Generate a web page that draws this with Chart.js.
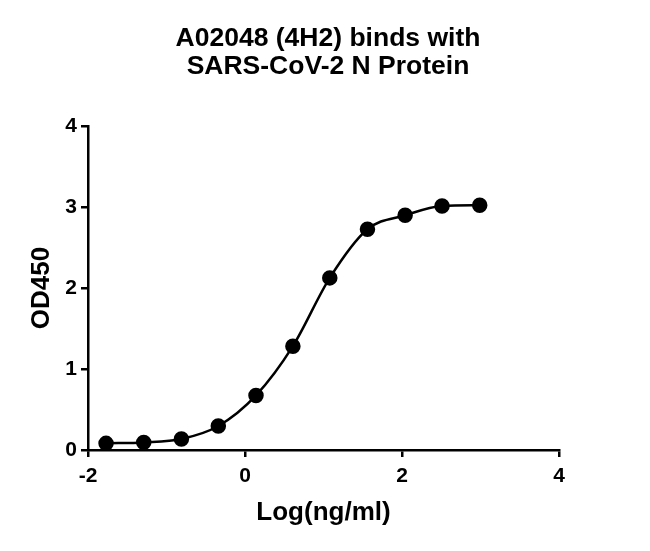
<!DOCTYPE html>
<html>
<head>
<meta charset="utf-8">
<script src="https://cdn.jsdelivr.net/npm/chart.js@4/dist/chart.umd.min.js"></script>
<style>
  html, body { margin: 0; padding: 0; background: #fff; }
  #wrap { width: 650px; height: 551px; }
</style>
</head>
<body>
<div id="wrap"><canvas id="chart"></canvas></div>
<script>
// log10 concentration (ng/ml) and OD450 readings
const logConc = [-1.77, -1.29, -0.81, -0.34, 0.14, 0.61, 1.08, 1.56, 2.04, 2.51, 2.99];
const od450 = [0.082, 0.094, 0.136, 0.296, 0.674, 1.282, 2.125, 2.725, 2.898, 3.013, 3.021];
const xTicks = [-2, 0, 2, 4];
const yTicks = [0, 1, 2, 3, 4];
const titleLines = ['A02048 (4H2) binds with', 'SARS-CoV-2 N Protein'];

const FONT = 'Arial, "Liberation Sans", sans-serif';

const points = logConc.map((x, i) => ({ x: x, y: od450[i] }));

// title is centred on the page, not on the plot area
const pageTitle = {
  id: 'pageTitle',
  afterDraw(chart) {
    const ctx = chart.ctx;
    ctx.save();
    ctx.fillStyle = '#000';
    ctx.font = 'bold 26.5px ' + FONT;
    ctx.textAlign = 'center';
    ctx.textBaseline = 'middle';
    ctx.fillText(titleLines[0], 328, 39);
    ctx.fillText(titleLines[1], 328, 67);
    ctx.restore();
  }
};

const axisGrid = {
  display: true,
  drawOnChartArea: false,
  drawTicks: true,
  tickLength: 7,
  color: '#000',
  lineWidth: 2.5
};

new Chart(document.getElementById('chart'), {
  type: 'scatter',
  data: {
    datasets: [{
      data: points,
      showLine: true,
      cubicInterpolationMode: 'monotone',
      borderColor: '#000',
      borderWidth: 2.5,
      backgroundColor: '#000',
      pointRadius: 6.5,
      pointHoverRadius: 6.5
    }]
  },
  options: {
    responsive: true,
    maintainAspectRatio: false,
    animation: false,
    layout: { padding: { top: 126, right: 91, bottom: 0, left: 0 } },
    plugins: {
      legend: { display: false },
      tooltip: { enabled: false },
      title: { display: false }
    },
    scales: {
      x: {
        type: 'linear',
        min: -2,
        max: 4,
        afterBuildTicks: (scale) => { scale.ticks = xTicks.map(v => ({ value: v })); },
        afterFit: (scale) => { scale.height = 101; },
        grid: axisGrid,
        border: { display: true, color: '#000', width: 2.5 },
        ticks: { color: '#000', padding: 7, font: { family: FONT, size: 21, weight: 'bold' } },
        title: {
          display: true,
          text: 'Log(ng/ml)',
          color: '#000',
          font: { family: FONT, size: 26, weight: 'bold' },
          padding: { top: 0, bottom: 23 }
        }
      },
      y: {
        type: 'linear',
        min: 0,
        max: 4,
        afterBuildTicks: (scale) => { scale.ticks = yTicks.map(v => ({ value: v })); },
        afterFit: (scale) => { scale.width = 88; },
        grid: axisGrid,
        border: { display: true, color: '#000', width: 2.5 },
        ticks: { color: '#000', padding: 4, font: { family: FONT, size: 21, weight: 'bold' } },
        title: {
          display: true,
          text: 'OD450',
          color: '#000',
          font: { family: FONT, size: 26, weight: 'bold' },
          padding: { top: 26, bottom: 0 }
        }
      }
    }
  },
  plugins: [pageTitle]
});
</script>
</body>
</html>
